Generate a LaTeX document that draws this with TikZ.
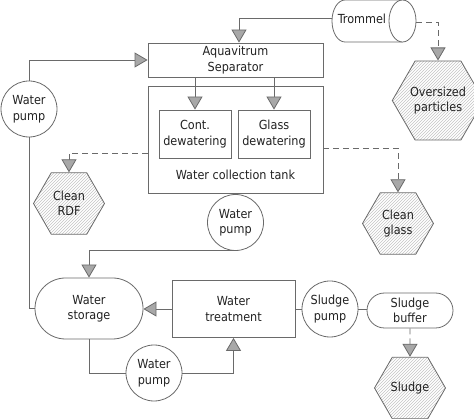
\documentclass[tikz,border=0pt]{standalone}
\usepackage{fontspec}
\setmainfont{DejaVu Sans Condensed}
\usetikzlibrary{arrows.meta,shapes.geometric,shapes.misc,patterns}
\definecolor{ln}{HTML}{6A6A6A}
\definecolor{af}{HTML}{A8A8A8}
\definecolor{tx}{HTML}{222222}
\definecolor{ht}{HTML}{C4C4C4}
\begin{document}
\begin{tikzpicture}[x=1pt,y=-1pt,font=\fontsize{12.5}{15.5}\selectfont,text=tx,
  box/.style={draw=ln,line width=0.8pt,rectangle,fill=white,align=center,inner sep=1pt},
  pump/.style={draw=ln,line width=0.8pt,circle,minimum size=56pt,inner sep=0pt,align=center,fill=white},
  stad/.style={draw=ln,line width=0.8pt,rounded rectangle,align=center,inner sep=0pt,fill=white},
  hexa/.style={draw=ln,line width=0.8pt,regular polygon,regular polygon sides=6,minimum size=71pt,inner sep=0pt,pattern=north east lines,pattern color=ht,align=center},
  flow/.style={draw=ln,line width=0.8pt,-{Triangle[length=13pt,width=15pt,fill=af]}},
  waste/.style={flow,dash pattern=on 6pt off 4pt},
  link/.style={draw=ln,line width=0.8pt}]
\useasboundingbox (0,0) rectangle (474,419);

% Trommel
\node (trommel) [minimum width=84pt,minimum height=42pt,inner sep=0pt] at (374,21) {};
\draw[link,fill=white] (402.5,0) -- (345,0) arc[start angle=90,end angle=270,x radius=13pt,y radius=21pt] -- (402.5,42);
\draw[link,fill=white] (402.5,21) ellipse [x radius=13.5pt,y radius=21pt];
\node (trommeltxt) at (362,19) {Trommel};

% Separator and tank
\node (sep) [box,minimum width=175pt,minimum height=34pt] at (235.5,60) {Aquavitrum\\Separator};
\node (tank) [box,minimum width=175pt,minimum height=107pt] at (235.5,139.5) {};
\node (tanklbl) at (235.5,175) {Water collection tank};
\node (cont) [box,minimum width=72pt,minimum height=48pt] at (195,134) {Cont.\\dewatering};
\node (glassd) [box,minimum width=72pt,minimum height=48pt] at (274,134) {Glass\\dewatering};

% Hexagons
\node (over) [hexa] at (438,100.5) {Oversized\\particles};
\node (rdf) [hexa] at (69,203.5) {Clean\\RDF};
\node (glass) [hexa] at (398,223.5) {Clean\\glass};
\node (sludge) [hexa] at (410,388) {Sludge};

% Pumps and storage
\node (lpump) [pump] at (29,109) {Water\\pump};
\node (mpump) [pump] at (235.5,222.5) {Water\\pump};
\node (bpump) [pump] at (154,373) {Water\\pump};
\node (spump) [pump] at (330,309) {Sludge\\pump};
\node (store) [stad,minimum width=108pt,minimum height=61pt] at (89,308.5) {Water\\storage};
\node (treat) [box,minimum width=123pt,minimum height=57pt] at (233.5,309) {Water\\treatment};
\node (buffer) [stad,minimum width=86pt,minimum height=35pt] at (410,310.5) {Sludge\\buffer};

% Connectors
\draw[flow] ([yshift=3pt]trommel.west) -| ([xshift=3.5pt]sep.north);
\draw[waste] ([yshift=-1pt]trommel.east) -| (over.north);
\draw[flow] (sep.south -| cont.north) -- (cont.north);
\draw[flow] (sep.south -| glassd.north) -- (glassd.north);
\draw[waste] ([yshift=-13.5pt]tank.west) -| (rdf.north);
\draw[waste] ([yshift=-8.5pt]tank.east) -| (glass.north);
\draw[flow] (lpump.north) |- (sep.west);
\draw[link] (lpump.south) |- (store.west);
\draw[flow] (mpump.south) -| (store.north);
\draw[flow] (treat.west) -- (treat.west -| store.east);
\draw[link] (store.south) |- (bpump.west);
\draw[flow] (bpump.east) -| (treat.south);
\draw[link] (treat.east) -- (spump.west);
\draw[link] (spump.east) -- (spump.east -| buffer.west);
\draw[waste] (buffer.south) -- (sludge.north);
\end{tikzpicture}
\end{document}
